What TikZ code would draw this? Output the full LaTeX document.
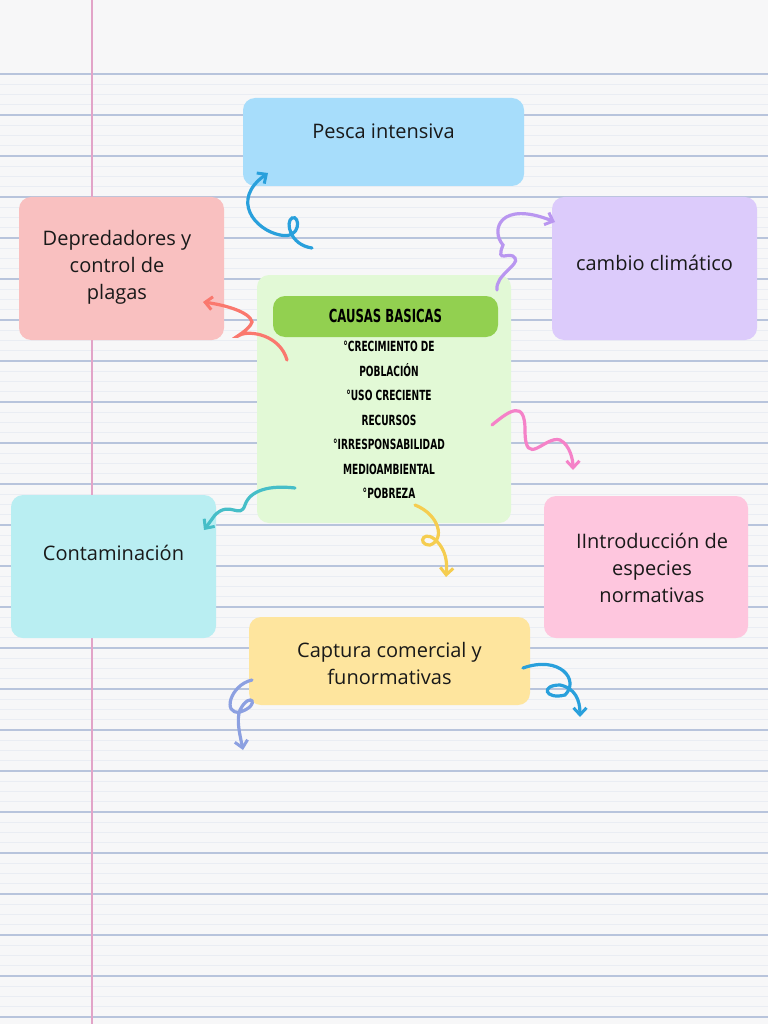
\documentclass[tikz,border=0pt]{standalone}
\usepackage{fontspec}
\setmainfont{Open Sans}
\newfontfamily\condfont{DejaVu Sans Condensed}[FakeStretch=0.72]
\usetikzlibrary{arrows.meta}
\definecolor{paper}{HTML}{F7F7F8}
\definecolor{major}{HTML}{B8C4DC}
\definecolor{minor}{HTML}{EAEDF3}
\definecolor{margin}{HTML}{E2A4C8}
\tikzset{
  box/.style={rounded corners=12pt,draw=none,align=center,font=\fontsize{20}{27}\selectfont,text=black!90},
  sq/.style={line width=3.2pt,line cap=round,-{Straight Barb[length=7pt,width=13pt,line width=3pt]}}
}
\begin{document}
\begin{tikzpicture}[x=1pt,y=-1pt]
\fill[paper] (0,0) rectangle (768,1024);
\useasboundingbox (0,0) rectangle (768,1024);
\foreach \i in {0,...,23}{
  \pgfmathsetmacro\yy{74+41*\i}
  \foreach \k in {10.25,20.5,30.75}{\draw[minor,line width=0.8pt] (0,\yy+\k) -- (768,\yy+\k);}
  \draw[major,line width=1.6pt] (0,\yy) -- (768,\yy);
}
\draw[margin,line width=2pt] (92,0) -- (92,1024);
% boxes
\fill[fill={rgb,255:red,167;green,221;blue,251},rounded corners=12pt] (243,98) rectangle (524,186);
\node[box] (pesca) at (383.5,131) {Pesca intensiva};
\fill[fill={rgb,255:red,249;green,192;blue,192},rounded corners=12pt] (19,197) rectangle (224,340);
\node[box] (dep) at (117,267) {Depredadores y\\control de\\plagas};
\fill[fill={rgb,255:red,220;green,203;blue,251},rounded corners=12pt] (552,197) rectangle (757,340);
\node[box] (cam) at (654.5,263) {cambio climático};
\fill[fill={rgb,255:red,226;green,249;blue,214},rounded corners=12pt] (257,275) rectangle (511,523);
\fill[fill={rgb,255:red,146;green,208;blue,80},rounded corners=12pt] (273,296) rectangle (498,337);
\node (head) at (385.5,316) {\condfont\bfseries\fontsize{18}{20}\selectfont CAUSAS BASICAS};
\node[align=center,font=\condfont\bfseries\fontsize{14}{24.5}\selectfont] (list) at (389,420) {°CRECIMIENTO DE\\POBLACIÓN\\°USO CRECIENTE\\RECURSOS\\°IRRESPONSABILIDAD\\MEDIOAMBIENTAL\\°POBREZA};
\fill[fill={rgb,255:red,185;green,238;blue,242},rounded corners=12pt] (11,495) rectangle (216,638);
\node[box] (con) at (113.5,553) {Contaminación};
\fill[fill={rgb,255:red,254;green,198;blue,222},rounded corners=12pt] (544,496) rectangle (748,638);
\node[box] (intro) at (652,568) {IIntroducción de\\especies\\normativas};
\fill[fill={rgb,255:red,254;green,229;blue,158},rounded corners=12pt] (249,617) rectangle (530,705);
\node[box] (cap) at (389.5,663) {Captura comercial y\\funormativas};
% squiggles
\draw[sq,color={rgb,255:red,41;green,160;blue,220}] (312,248) .. controls (290,245) and (285,222) .. (292,218) .. controls (300,214) and (302,240) .. (280,235) .. controls (255,230) and (230,200) .. (268,173);
\draw[sq,color={rgb,255:red,250;green,120;blue,110}] (287,360) .. controls (280,335) and (250,330) .. (240,335) .. controls (230,340) and (250,330) .. (252,322) .. controls (250,312) and (225,305) .. (203,302);
\draw[sq,color={rgb,255:red,185;green,150;blue,240}] (497,290) .. controls (495,275) and (520,265) .. (515,258) .. controls (510,250) and (495,265) .. (503,245) .. controls (490,230) and (500,200) .. (555,222);
\draw[sq,color={rgb,255:red,245;green,130;blue,200}] (492,425) .. controls (510,410) and (525,400) .. (525,430) .. controls (525,470) and (545,435) .. (560,440) .. controls (570,445) and (573,460) .. (573,470);
\draw[sq,color={rgb,255:red,70;green,190;blue,200}] (295,488) .. controls (270,485) and (250,490) .. (245,505) .. controls (240,520) and (230,500) .. (215,515) -- (204,530);
\draw[sq,color={rgb,255:red,245;green,205;blue,80}] (415,505) .. controls (440,515) and (445,540) .. (430,545) .. controls (415,545) and (425,525) .. (440,545) .. controls (447,555) and (447,565) .. (446,577);
\draw[sq,color={rgb,255:red,140;green,160;blue,225}] (252,680) .. controls (230,685) and (222,715) .. (240,712) .. controls (262,705) and (250,690) .. (240,710) .. controls (236,720) and (240,735) .. (243,750);
\draw[sq,color={rgb,255:red,41;green,160;blue,220}] (523,668) .. controls (560,655) and (580,680) .. (565,695) .. controls (545,700) and (540,685) .. (560,685) .. controls (575,688) and (580,700) .. (580,717);
\end{tikzpicture}
\end{document}
